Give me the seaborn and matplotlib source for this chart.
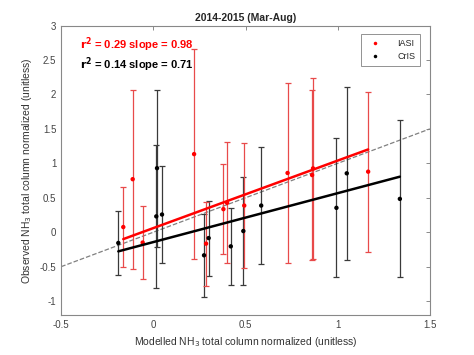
import numpy as np
import pandas as pd
import matplotlib
matplotlib.use("Agg")
import matplotlib.pyplot as plt
import seaborn as sns

# ── Data ──────────────────────────────────────────────────────────────────────
iasi_x   = [-0.163, -0.112, -0.058, 0.221, 0.286, 0.380, 0.400, 0.493, 0.728, 0.861, 0.866, 1.165]
iasi_y   = [0.075, 0.770, -0.150, 1.134, -0.166, 0.335, 0.426, 0.387, 0.860, 0.830, 0.927, 0.879]
iasi_err = [0.58, 1.30, 0.53, 1.52, 0.61, 0.65, 0.88, 0.91, 1.30, 1.23, 1.31, 1.16]

cris_x   = [-0.190, 0.016, 0.020, 0.047, 0.275, 0.300, 0.420, 0.488, 0.585, 0.993, 1.049, 1.337]
cris_y   = [-0.156, 0.230, 0.930, 0.257, -0.335, -0.085, -0.205, 0.017, 0.387, 0.354, 0.855, 0.484]
cris_err = [0.47, 1.04, 1.14, 0.70, 0.60, 0.545, 0.56, 0.78, 0.855, 1.01, 1.26, 1.14]

iasi_fit = (0.98, 0.060)   # slope, intercept
cris_fit = (0.71, -0.143)
iasi_r2, cris_r2 = 0.29, 0.14

RED = "#ff0000"
BLACK = "#000000"

df = pd.concat([
    pd.DataFrame({"x": iasi_x, "y": iasi_y, "err": iasi_err, "sensor": "IASI"}),
    pd.DataFrame({"x": cris_x, "y": cris_y, "err": cris_err, "sensor": "CrIS"}),
])

sns.set_style("white")
plt.rcParams["font.family"] = ["Liberation Sans", "DejaVu Sans"]

fig = plt.figure(figsize=(4.74, 3.55), dpi=100)
ax = fig.add_axes([0.129, 0.113, 0.778, 0.815])

# 1:1 line
one = np.array([-0.5, 1.5])
ax.plot(one, one, ls="--", color="#808080", lw=0.9, zorder=1)

# error bars
ax.errorbar(cris_x, cris_y, yerr=cris_err, fmt="none", ecolor="#3a3a3a",
            elinewidth=0.9, capsize=2.5, capthick=0.9, zorder=2)
ax.errorbar(iasi_x, iasi_y, yerr=iasi_err, fmt="none", ecolor="#e84a4a",
            elinewidth=0.9, capsize=2.5, capthick=0.9, zorder=3)

# points
sns.scatterplot(data=df, x="x", y="y", hue="sensor", palette={"IASI": RED, "CrIS": BLACK},
                s=10, edgecolor="none", ax=ax, zorder=4)

# fit lines
for xs, (m, b), c in [(cris_x, cris_fit, BLACK), (iasi_x, iasi_fit, RED)]:
    xx = np.array([min(xs), max(xs)])
    ax.plot(xx, m * xx + b, color=c, lw=1.8, zorder=5)

ax.text(-0.40, 2.72, r"$\mathbf{r^2}$ = %.2f slope = %.2f" % (iasi_r2, iasi_fit[0]),
        color=RED, fontsize=8, fontweight="bold", va="center")
ax.text(-0.40, 2.43, r"$\mathbf{r^2}$ = %.2f slope = %.2f" % (cris_r2, cris_fit[0]),
        color=BLACK, fontsize=8, fontweight="bold", va="center")

ax.set_xlim(-0.5, 1.5)
ax.set_ylim(-1.2, 3)
ax.set_xticks(np.arange(-0.5, 1.51, 0.5))
ax.set_yticks(np.arange(-1, 3.01, 0.5))
ax.set_xticklabels(["-0.5", "0", "0.5", "1", "1.5"])
ax.set_yticklabels(["-1", "-0.5", "0", "0.5", "1", "1.5", "2", "2.5", "3"])
ax.tick_params(direction="in", length=3, width=0.6, colors="#777777",
               labelsize=7, labelcolor="#444444", top=True, right=True)
for sp in ax.spines.values():
    sp.set_color("#888888")
    sp.set_linewidth(0.8)

ax.set_title("2014-2015 (Mar-Aug)", fontsize=7.5, fontweight="bold", pad=3)
ax.set_xlabel("Modelled NH$_3$ total column normalized (unitless)", fontsize=7.5, color="#333333")
ax.set_ylabel("Observed NH$_3$ total column normalized (unitless)", fontsize=7.5, color="#333333")

leg = ax.legend(loc="upper right", fontsize=6.5, frameon=True, fancybox=False,
                handletextpad=1.5, borderpad=0.5, markerscale=0.8,
                bbox_to_anchor=(0.985, 0.985))
leg.get_frame().set_edgecolor("#777777")
leg.get_frame().set_linewidth(0.7)
leg.set_title(None)

fig.savefig("out.png", dpi=100)
